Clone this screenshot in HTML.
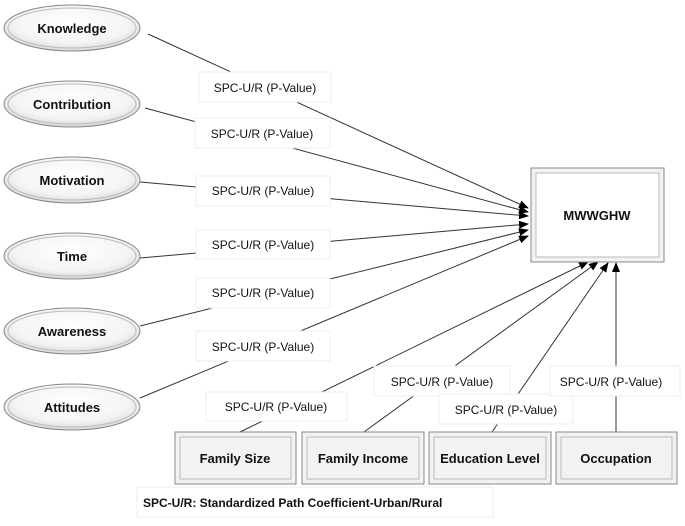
<!DOCTYPE html>
<html><head><style>
body{margin:0;background:#fff;}
svg text{font-family:"Liberation Sans",Arial,sans-serif;}
</style></head><body>
<svg width="685" height="521" viewBox="0 0 685 521" xmlns="http://www.w3.org/2000/svg">
<defs>
<radialGradient id="eg" cx="50%" cy="40%" r="60%"><stop offset="0" stop-color="#ffffff"/><stop offset="0.7" stop-color="#f4f4f4"/><stop offset="1" stop-color="#d8d8d8"/></radialGradient>
<marker id="ar" markerWidth="10" markerHeight="8" refX="9" refY="4" orient="auto" markerUnits="userSpaceOnUse"><path d="M0,0 L10,4 L0,8 z" fill="#000"/></marker>
</defs>
<g stroke="#333" stroke-width="1" fill="none" marker-end="url(#ar)">
<line x1="148" y1="34" x2="528" y2="208"/>
<line x1="145" y1="108" x2="528" y2="212"/>
<line x1="140" y1="182" x2="528" y2="216"/>
<line x1="140" y1="258" x2="528" y2="224"/>
<line x1="140" y1="326" x2="528" y2="230"/>
<line x1="140" y1="398" x2="528" y2="236"/>
<line x1="240" y1="432" x2="588" y2="262"/>
<line x1="364" y1="432" x2="598" y2="262"/>
<line x1="492" y1="432" x2="608" y2="263"/>
<line x1="616" y1="432" x2="616" y2="263"/>
</g>
<g fill="url(#eg)" stroke="#888">
<ellipse cx="72" cy="28" rx="68" ry="23"/><ellipse cx="72" cy="28" rx="64" ry="20" fill="none" stroke="#bbb"/>
<ellipse cx="72" cy="104" rx="68" ry="23"/><ellipse cx="72" cy="104" rx="64" ry="20" fill="none" stroke="#bbb"/>
<ellipse cx="72" cy="180" rx="68" ry="23"/><ellipse cx="72" cy="180" rx="64" ry="20" fill="none" stroke="#bbb"/>
<ellipse cx="72" cy="256" rx="68" ry="23"/><ellipse cx="72" cy="256" rx="64" ry="20" fill="none" stroke="#bbb"/>
<ellipse cx="72" cy="331" rx="68" ry="23"/><ellipse cx="72" cy="331" rx="64" ry="20" fill="none" stroke="#bbb"/>
<ellipse cx="72" cy="407" rx="68" ry="23"/><ellipse cx="72" cy="407" rx="64" ry="20" fill="none" stroke="#bbb"/>
</g>
<g font-size="13" font-weight="bold" text-anchor="middle" fill="#111">
<text x="72" y="33">Knowledge</text>
<text x="72" y="109">Contribution</text>
<text x="72" y="185">Motivation</text>
<text x="72" y="261">Time</text>
<text x="72" y="336">Awareness</text>
<text x="72" y="412">Attitudes</text>
</g>
<g fill="#f2f2f2" stroke="#888">
<rect x="531" y="168" width="133" height="94"/><rect x="536" y="173" width="123" height="84" fill="#fff" stroke="#bbb"/>
<rect x="175" y="432" width="121" height="52"/><rect x="180" y="437" width="111" height="42" stroke="#bbb"/>
<rect x="302" y="432" width="122" height="52"/><rect x="307" y="437" width="112" height="42" stroke="#bbb"/>
<rect x="429" y="432" width="122" height="52"/><rect x="434" y="437" width="112" height="42" stroke="#bbb"/>
<rect x="556" y="432" width="121" height="52"/><rect x="561" y="437" width="111" height="42" stroke="#bbb"/>
</g>
<g font-size="13" font-weight="bold" text-anchor="middle" fill="#111">
<text x="597" y="220">MWWGHW</text>
<text x="235" y="463">Family Size</text>
<text x="363" y="463">Family Income</text>
<text x="490" y="463">Education Level</text>
<text x="616" y="463">Occupation</text>
</g>
<g fill="#fff" stroke="#eee">
<rect x="199" y="72" width="132" height="30"/>
<rect x="195" y="118" width="135" height="30"/>
<rect x="196" y="176" width="134" height="30"/>
<rect x="196" y="230" width="134" height="29"/>
<rect x="196" y="278" width="134" height="30"/>
<rect x="196" y="331" width="134" height="30"/>
<rect x="206" y="392" width="141" height="29"/>
<rect x="374" y="366" width="136" height="30"/>
<rect x="439" y="394" width="134" height="30"/>
<rect x="550" y="366" width="130" height="30"/>
<rect x="137" y="487" width="356" height="30"/>
</g>
<g font-size="12" text-anchor="middle" fill="#111">
<text x="265" y="92">SPC-U/R (P-Value)</text>
<text x="262" y="138">SPC-U/R (P-Value)</text>
<text x="263" y="195">SPC-U/R (P-Value)</text>
<text x="263" y="249">SPC-U/R (P-Value)</text>
<text x="263" y="297">SPC-U/R (P-Value)</text>
<text x="263" y="351">SPC-U/R (P-Value)</text>
<text x="276" y="411">SPC-U/R (P-Value)</text>
<text x="442" y="386">SPC-U/R (P-Value)</text>
<text x="506" y="414">SPC-U/R (P-Value)</text>
<text x="611" y="386">SPC-U/R (P-Value)</text>
</g>
<text x="143" y="507" font-size="12" font-weight="bold" fill="#111">SPC-U/R: Standardized Path Coefficient-Urban/Rural</text>
</svg>
</body></html>
